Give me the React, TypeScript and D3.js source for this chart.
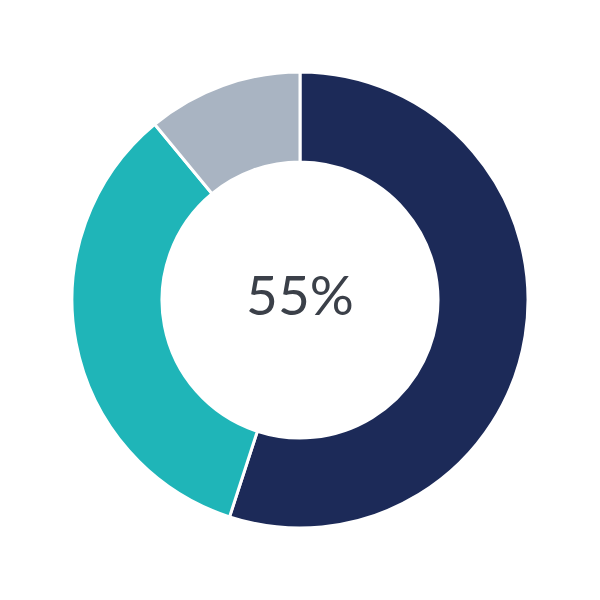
import React from 'react';
import * as d3 from 'd3';

const labels = ['Primary', 'Secondary', 'Other'];
const values = [55, 34, 11];
const colors = ['#1c2a58', '#1fb5b8', '#a9b4c2'];
const centerLabel = '55%';

export default function App() {
  const width = 600;
  const height = 600;
  const cx = 292;
  const cy = 292;
  const outer = 228;
  const inner = 138;

  const pie = d3.pie<number>().sort(null).value(d => d);
  const arc = d3.arc<d3.PieArcDatum<number>>().innerRadius(inner).outerRadius(outer);
  const arcs = pie(values);

  return (
    <svg width={width} height={height} style={{ display: 'block', margin: '-8px' }}>
      <rect width={width} height={height} fill="#fff" />
      <g transform={`translate(${cx + 8},${cy + 8})`}>
        {arcs.map((a, i) => (
          <path key={labels[i]} d={arc(a) || ''} fill={colors[i]} stroke="#fff" strokeWidth={3} />
        ))}
        <text
          x={0}
          y={-5}
          dy="0.36em"
          textAnchor="middle"
          fontFamily="Lato, 'Open Sans', sans-serif"
          fontWeight={400}
          fontSize={55}
          fill="#3b4049"
        >
          {centerLabel}
        </text>
      </g>
    </svg>
  );
}
